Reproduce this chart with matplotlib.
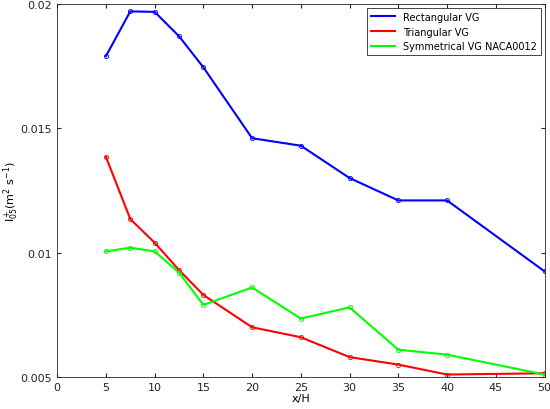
import matplotlib.pyplot as plt

x = [5, 7.5, 10, 12.5, 15, 20, 25, 30, 35, 40, 50]
rect = [0.0179, 0.0197, 0.01968, 0.0187, 0.01745, 0.0146, 0.0143, 0.0130, 0.0121, 0.0121, 0.00925]
tri = [0.01385, 0.01135, 0.0104, 0.0093, 0.0083, 0.0070, 0.0066, 0.0058, 0.0055, 0.0051, 0.00515]
sym = [0.01005, 0.0102, 0.01005, 0.0092, 0.0079, 0.0086, 0.00735, 0.0078, 0.0061, 0.0059, 0.0051]

fig, ax = plt.subplots(figsize=(5.5, 4.1), dpi=100)
fig.subplots_adjust(left=0.104, right=0.99, top=0.988, bottom=0.078)

ax.plot(x, rect, 'o-', color='#0000ff', lw=1.5, ms=3, mfc='none', mew=0.6, label='Rectangular VG')
ax.plot(x, tri, 'o-', color='#ff0000', lw=1.5, ms=3, mfc='none', mew=0.6, label='Triangular VG')
ax.plot(x, sym, 'o-', color='#00ff00', lw=1.5, ms=3, mfc='none', mew=0.6, label='Symmetrical VG NACA0012')

ax.set_xlim(0, 50)
ax.set_ylim(0.005, 0.02)
ax.set_xticks(range(0, 51, 5))
ax.set_yticks([0.005, 0.01, 0.015, 0.02])
ax.set_yticklabels(['0.005', '0.01', '0.015', '0.02'])
ax.tick_params(direction='in', labelsize=8, colors='#262626', top=True, right=True, length=3)
for s in ax.spines.values():
    s.set_color('#262626')
    s.set_linewidth(0.6)
ax.set_xlabel('x/H', fontsize=8, labelpad=1)
ax.set_ylabel(r'I$^+_{05}$(m$^2$ s$^{-1}$)', fontsize=8)
ax.yaxis.set_label_coords(-0.075, 0.5)
leg = ax.legend(loc='upper right', fontsize=7, fancybox=False, framealpha=1, borderaxespad=0.4, handlelength=2.5)
leg.get_frame().set_edgecolor('#262626')
leg.get_frame().set_linewidth(0.6)
for h in leg.get_lines():
    h.set_marker('')

fig.savefig('out.png')
